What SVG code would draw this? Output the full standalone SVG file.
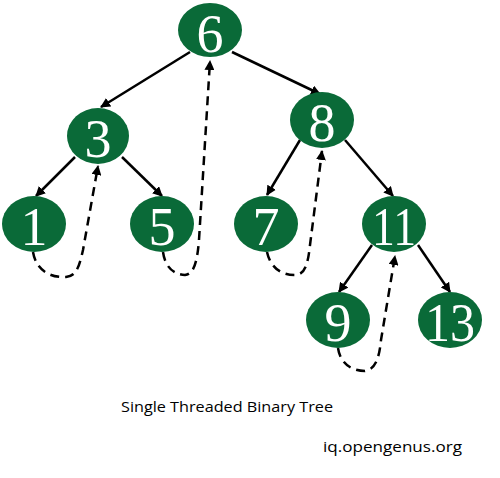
<svg xmlns="http://www.w3.org/2000/svg" width="500" height="478" viewBox="0 0 500 478">
<style>
.node ellipse{fill:#0a6a38}
.node text{fill:#fff;font-family:"Liberation Serif","Times New Roman",serif;font-size:54px;text-anchor:middle}
.edge{stroke:#000;stroke-width:2.5;fill:none;marker-end:url(#ah)}
.thread{stroke:#000;stroke-width:2.5;fill:none;stroke-dasharray:9 6;marker-end:url(#ah)}
.label{font-family:"Open Sans","Liberation Sans",sans-serif;font-size:14px;fill:#000}
</style>
<defs>
<marker id="ah" viewBox="0 0 10 10" refX="9" refY="5" markerWidth="4" markerHeight="4" orient="auto" markerUnits="strokeWidth">
<path d="M0,0 L10,5 L0,10 z" fill="#000"/>
</marker>
</defs>
<rect width="500" height="478" fill="#fff"/>
<g id="connectors">
<line class="edge" x1="190" y1="52" x2="101" y2="107"/>
<line class="edge" x1="232" y1="52" x2="320" y2="94"/>
<line class="edge" x1="75" y1="157" x2="36" y2="196"/>
<line class="edge" x1="122" y1="157" x2="162" y2="196"/>
<line class="edge" x1="300" y1="140" x2="267" y2="195"/>
<line class="edge" x1="345" y1="140" x2="393" y2="196"/>
<line class="edge" x1="372" y1="245" x2="339" y2="292"/>
<line class="edge" x1="418" y1="245" x2="450" y2="292"/>
<path class="thread" d="M33,252 C36,270 50,278 66,277 C76,276 79,268 83,250 L98,166"/>
<path class="thread" d="M163,252 C165,266 172,274 185,275 C193,274 197,265 199,240 L210,61"/>
<path class="thread" d="M267,252 C270,266 280,276 297,275 C305,273 308,264 310,245 L322,151"/>
<path class="thread" d="M338,348 C340,362 350,371 365,371 C375,369 379,360 381,340 L395,256"/>
</g>
<g id="n6" class="node"><ellipse cx="210" cy="30" rx="32" ry="27"/><text x="210" y="52">6</text></g>
<g id="n3" class="node"><ellipse cx="98" cy="136" rx="31" ry="28"/><text x="98" y="157">3</text></g>
<g id="n8" class="node"><ellipse cx="322" cy="120" rx="32" ry="28"/><text x="322" y="141">8</text></g>
<g id="n1" class="node"><ellipse cx="34" cy="224" rx="32" ry="28"/><text x="34" y="245">1</text></g>
<g id="n5" class="node"><ellipse cx="162" cy="224" rx="32" ry="28"/><text x="162" y="245">5</text></g>
<g id="n7" class="node"><ellipse cx="266" cy="224" rx="32" ry="28"/><text x="266" y="245">7</text></g>
<g id="n11" class="node"><ellipse cx="394" cy="224" rx="32" ry="28"/><text x="394" y="245" textLength="44" lengthAdjust="spacingAndGlyphs">11</text></g>
<g id="n9" class="node"><ellipse cx="338" cy="320" rx="32" ry="28"/><text x="338" y="341">9</text></g>
<g id="n13" class="node"><ellipse cx="450" cy="320" rx="32" ry="28"/><text x="450" y="341" textLength="50" lengthAdjust="spacingAndGlyphs">13</text></g>
<text class="label" x="121" y="412" textLength="212" lengthAdjust="spacingAndGlyphs">Single Threaded Binary Tree</text>
<text class="label" x="323" y="452" textLength="139" lengthAdjust="spacingAndGlyphs">iq.opengenus.org</text>
</svg>
